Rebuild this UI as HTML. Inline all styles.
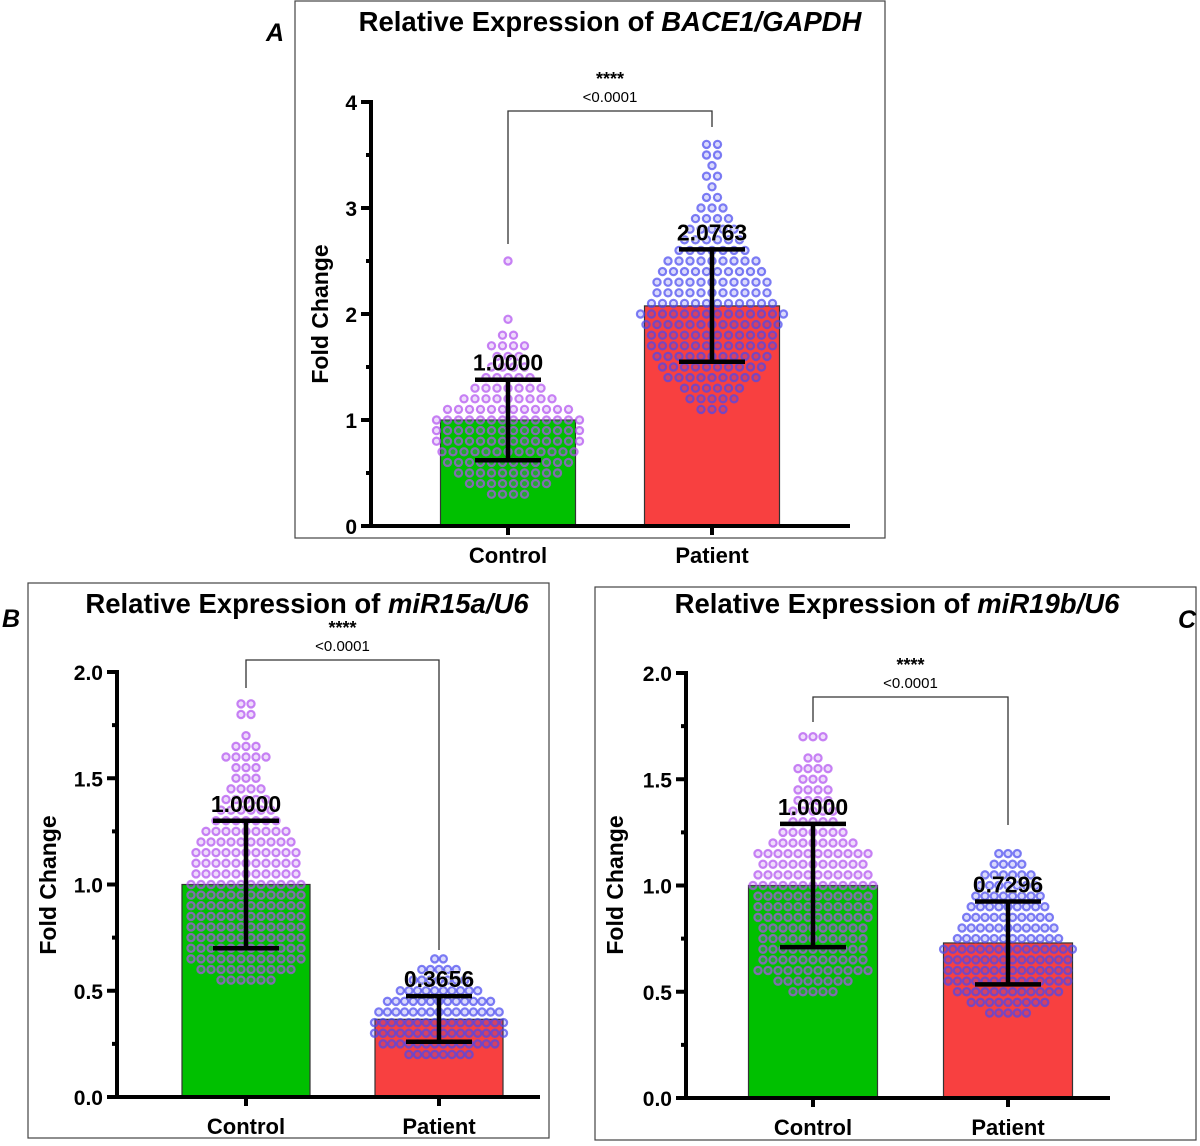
<!DOCTYPE html>
<html><head><meta charset="utf-8"><style>
body{margin:0;background:#fff;width:1200px;height:1141px;overflow:hidden;font-family:"Liberation Sans",Arial,sans-serif}
</style></head><body>
<svg id="fig" width="1200" height="1141" xmlns="http://www.w3.org/2000/svg" font-family="Liberation Sans, Arial, sans-serif"></svg>
<script>
// ---- data ----
const categories = ["Control", "Patient"];
const meansA = [1.0, 2.0763];
const errLoA = [0.62, 1.55];
const errHiA = [1.38, 2.61];
const meanLabelsA = ["1.0000", "2.0763"];
const ticksA = [0, 1, 2, 3, 4];
const tickLabelsA = ["0", "1", "2", "3", "4"];
const binsA_ctrl = [0.3,0.4,0.5,0.6,0.7,0.8,0.9,1.0,1.1,1.2,1.3,1.4,1.5,1.6,1.7,1.8,1.95,2.5];
const countsA_ctrl = [4,8,10,12,13,14,14,14,12,9,7,5,4,3,4,2,1,1];
const binsA_pat = [1.1,1.2,1.3,1.4,1.5,1.6,1.7,1.8,1.9,2.0,2.1,2.2,2.3,2.4,2.5,2.6,2.7,2.8,2.9,3.0,3.1,3.2,3.3,3.4,3.5,3.6];
const countsA_pat = [3,5,6,9,10,11,12,12,13,14,12,11,11,10,9,7,6,5,4,3,2,1,2,1,2,2];

const meansB = [1.0, 0.3656];
const errLoB = [0.70, 0.26];
const errHiB = [1.30, 0.475];
const meanLabelsB = ["1.0000", "0.3656"];
const ticksB = [0, 0.5, 1.0, 1.5, 2.0];
const tickLabelsB = ["0.0", "0.5", "1.0", "1.5", "2.0"];
const binsB_ctrl = [0.55,0.6,0.65,0.7,0.75,0.8,0.85,0.9,0.95,1.0,1.05,1.1,1.15,1.2,1.25,1.3,1.35,1.4,1.45,1.5,1.55,1.6,1.65,1.7,1.8,1.85];
const countsB_ctrl = [6,10,12,12,12,12,12,12,12,12,11,11,11,10,9,7,6,5,4,3,3,5,3,1,2,2];
const binsB_pat = [0.2,0.25,0.3,0.35,0.4,0.45,0.5,0.55,0.6,0.65];
const countsB_pat = [8,14,16,16,15,13,10,7,5,2];

const meansC = [1.0, 0.7296];
const errLoC = [0.71, 0.535];
const errHiC = [1.29, 0.925];
const meanLabelsC = ["1.0000", "0.7296"];
const ticksC = [0, 0.5, 1.0, 1.5, 2.0];
const tickLabelsC = ["0.0", "0.5", "1.0", "1.5", "2.0"];
const binsC_ctrl = [0.5,0.55,0.6,0.65,0.7,0.75,0.8,0.85,0.9,0.95,1.0,1.05,1.1,1.15,1.2,1.25,1.3,1.35,1.4,1.45,1.5,1.55,1.6,1.7];
const countsC_ctrl = [5,8,12,11,11,11,11,12,12,12,13,12,11,12,9,7,5,5,4,4,3,4,2,3];
const binsC_pat = [0.4,0.45,0.5,0.55,0.6,0.65,0.7,0.75,0.8,0.85,0.9,0.95,1.0,1.05,1.1,1.15];
const countsC_pat = [5,9,12,14,14,14,15,12,11,10,9,8,7,6,4,3];

const NS = "http://www.w3.org/2000/svg";
const svg = document.getElementById('fig');
function mk(tag, attrs, parent, text) {
  const e = document.createElementNS(NS, tag);
  for (const k in attrs) e.setAttribute(k, attrs[k]);
  if (text !== undefined) e.textContent = text;
  (parent || svg).appendChild(e);
  return e;
}

function panel(p) {
  const g = mk('g', {});
  
  
  const y = v => p.y0 - (v - 0) * (p.y0 - p.yTop) / p.yMax;
  const fr = mk('rect', {x: p.box[0], y: p.box[1], width: p.box[2], height: p.box[3], fill: 'none', stroke: '#444', 'stroke-width': 1.2}, g);
  
  
  const L = mk('text', {x: p.letter[0], y: p.letter[1], 'font-size': 25, 'font-weight': 'bold', 'font-style': 'italic', 'text-anchor': 'middle'}, g, p.id);
  
  
  const t = mk('text', {x: p.title[0], y: p.title[1], 'font-size': 27.5, 'font-weight': 'bold', 'text-anchor': 'middle'}, g);
  
  
  mk('tspan', {}, t, 'Relative Expression of ');
  mk('tspan', {'font-style': 'italic'}, t, p.gene);
  const cols = [p.cx[0], p.cx[1]];
  const fills = ['#00c000', '#f84040'];
  for (let i = 0; i < 2; i++) {
    const b = mk('rect', {x: cols[i] - p.bw / 2, y: y(p.means[i]), width: p.bw, height: p.y0 - y(p.means[i]), fill: fills[i], stroke: '#333', 'stroke-width': 1.2}, g);
    
    
  }
  const groups = [[p.binsC, p.countsC, '#b050f0'], [p.binsP, p.countsP, '#4848f0']];
  for (let i = 0; i < 2; i++) {
    const [bins, counts, col] = groups[i];
    const sp = p.sp[i];
    bins.forEach((v, j) => {
      const n = counts[j];
      for (let k = 0; k < n; k++) {
        const off = (k - (n - 1) / 2) * sp;
        const d = mk('circle', {cx: cols[i] + off, cy: y(v), r: 3.6, fill: col, 'fill-opacity': 0.2, stroke: col, 'stroke-opacity': 0.7, 'stroke-width': 2.2}, g);
        
        
      }
    });
  }
  for (let i = 0; i < 2; i++) {
    const e = mk('g', {stroke: '#000', 'stroke-width': 4.5}, g);
    
    
    mk('line', {x1: cols[i], x2: cols[i], y1: y(p.lo[i]), y2: y(p.hi[i])}, e);
    mk('line', {x1: cols[i] - 33, x2: cols[i] + 33, y1: y(p.lo[i]), y2: y(p.lo[i])}, e);
    mk('line', {x1: cols[i] - 33, x2: cols[i] + 33, y1: y(p.hi[i]), y2: y(p.hi[i])}, e);
    const ml = mk('text', {x: cols[i], y: y(p.hi[i]) - 9, 'font-size': 23, 'font-weight': 'bold', 'text-anchor': 'middle', stroke: '#fff', 'stroke-width': 0.6, 'paint-order': 'stroke'}, g, p.labels[i]);
    
    
  }
  const ax = mk('g', {stroke: '#000', 'stroke-width': 4}, g);
  
  
  mk('line', {x1: p.ax, x2: p.ax, y1: y(p.yMax) - 2, y2: p.y0 + 2}, ax);
  for (let i = 0; i < p.ticks.length; i++) {
    mk('line', {x1: p.ax - 10, x2: p.ax, y1: y(p.ticks[i]), y2: y(p.ticks[i])}, ax);
    if (i < p.ticks.length - 1) {
      const m = (p.ticks[i] + p.ticks[i + 1]) / 2;
      mk('line', {x1: p.ax - 5, x2: p.ax, y1: y(m), y2: y(m)}, ax);
    }
    const tl = mk('text', {x: p.ax - 14, y: y(p.ticks[i]) + 8, 'font-size': 21, 'font-weight': 'bold', 'text-anchor': 'end', stroke: 'none'}, g, p.tickLabels[i]);
    
    
  }
  const xa = mk('line', {x1: p.ax, x2: p.axEnd, y1: p.y0, y2: p.y0, stroke: '#000', 'stroke-width': 4}, g);
  
  
  for (let i = 0; i < 2; i++) {
    mk('line', {x1: cols[i], x2: cols[i], y1: p.y0, y2: p.y0 + 9, stroke: '#000', 'stroke-width': 4}, g);
    const xl = mk('text', {x: cols[i], y: p.y0 + 37, 'font-size': 22, 'font-weight': 'bold', 'text-anchor': 'middle'}, g, categories[i]);
    
    
  }
  const yl = mk('text', {x: 0, y: 0, 'font-size': 23, 'font-weight': 'bold', 'text-anchor': 'middle', transform: `translate(${p.ylab[0]},${p.ylab[1]}) rotate(-90)`}, g, 'Fold Change');
  
  
  const br = mk('polyline', {points: `${cols[0]},${p.brL} ${cols[0]},${p.brY} ${cols[1]},${p.brY} ${cols[1]},${p.brR}`, fill: 'none', stroke: '#333', 'stroke-width': 1.3}, g);
  
  
  const mid = (cols[0] + cols[1]) / 2;
  const s1 = mk('text', {x: mid, y: p.brY - 26, 'font-size': 18, 'font-weight': 'bold', 'text-anchor': 'middle'}, g, '****');
  
  
  const s2 = mk('text', {x: mid, y: p.brY - 9, 'font-size': 15, 'text-anchor': 'middle'}, g, '<0.0001');
  
  
}

panel({id: 'A', gene: 'BACE1/GAPDH', box: [295, 1, 590, 537], letter: [275, 41], title: [610, 31],
  y0: 526, yTop: 102, yMax: 4, ax: 371, axEnd: 850, cx: [508, 712], bw: 135,
  means: meansA, lo: errLoA, hi: errHiA, labels: meanLabelsA, ticks: ticksA, tickLabels: tickLabelsA,
  binsC: binsA_ctrl, countsC: countsA_ctrl, binsP: binsA_pat, countsP: countsA_pat, sp: [11, 11],
  ylab: [328, 314], brY: 111, brL: 244, brR: 127});
panel({id: 'B', gene: 'miR15a/U6', box: [28, 583, 521, 555], letter: [11, 627], title: [307, 613],
  y0: 1097, yTop: 672, yMax: 2, ax: 117, axEnd: 540, cx: [246, 439], bw: 128,
  means: meansB, lo: errLoB, hi: errHiB, labels: meanLabelsB, ticks: ticksB, tickLabels: tickLabelsB,
  binsC: binsB_ctrl, countsC: countsB_ctrl, binsP: binsB_pat, countsP: countsB_pat, sp: [10, 8.6],
  ylab: [56, 885], brY: 660, brL: 688, brR: 950});
panel({id: 'C', gene: 'miR19b/U6', box: [595, 587, 601, 553], letter: [1187, 628], title: [897, 613],
  y0: 1098, yTop: 673, yMax: 2, ax: 686, axEnd: 1110, cx: [813, 1008], bw: 129,
  means: meansC, lo: errLoC, hi: errHiC, labels: meanLabelsC, ticks: ticksC, tickLabels: tickLabelsC,
  binsC: binsC_ctrl, countsC: countsC_ctrl, binsP: binsC_pat, countsP: countsC_pat, sp: [10, 9.2],
  ylab: [623, 885], brY: 697, brL: 722, brR: 825});
</script>
</body></html>
